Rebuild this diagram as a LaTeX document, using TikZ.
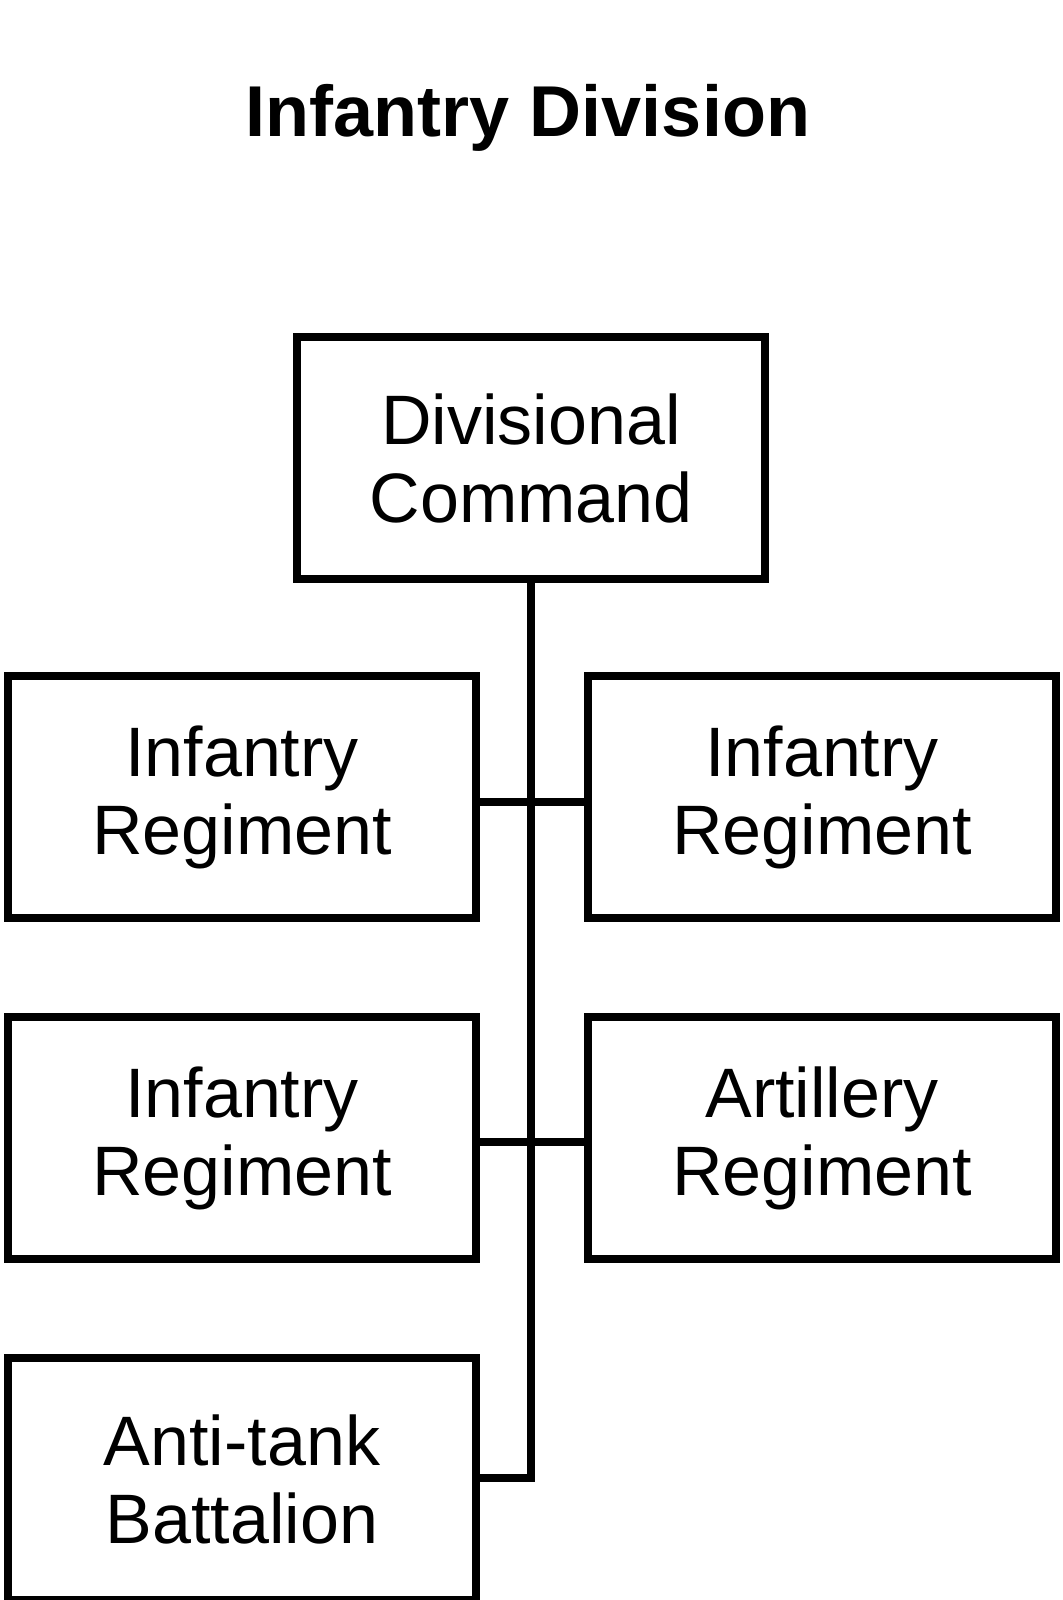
\documentclass[tikz,border=0pt]{standalone}
\usepackage{fontspec}
\setmainfont{Liberation Sans}
\begin{document}
\begin{tikzpicture}[x=0.5pt,y=-0.5pt,
  box/.style={draw,line width=4pt,minimum width=234pt,minimum height=121pt,align=center,font=\fontsize{35}{39}\selectfont,inner sep=0pt},
  conn/.style={line width=4pt}]
\useasboundingbox (0,0) rectangle (1063,1600);
\node[font=\bfseries\fontsize{36}{40}\selectfont] (title) at (528,118) {Infantry Division};
\node[box] (dc) at (531,458) {Divisional\\Command};
\node[box] (ir1) at (242,797) {Infantry\\Regiment};
\node[box] (ir2) at (822,797) {Infantry\\Regiment};
\node[box] (ir3) at (242,1138) {Infantry\\Regiment};
\node[box] (ar) at (822,1138) {Artillery\\Regiment};
\node[box] (at) at (242,1479) {Anti-tank\\Battalion};
\coordinate (j1) at (531,802);
\coordinate (j2) at (531,1142);
\coordinate (j3) at (531,1478);
\draw[conn] (dc.south) -- (j3) -- (at.east |- j3);
\draw[conn] (ir1.east |- j1) -- (ir2.west |- j1);
\draw[conn] (ir3.east |- j2) -- (ar.west |- j2);
\end{tikzpicture}
\end{document}
